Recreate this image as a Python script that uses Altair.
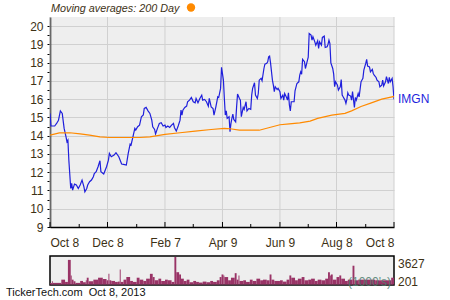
import altair as alt
import pandas as pd

# ---- data ----
start_date = "2012-10-08"
price_days = [0, 1, 5, 7, 9, 11, 13, 15, 17, 18, 19, 20, 22, 23, 24, 26, 28, 30, 32, 34, 36, 37, 39, 40, 42, 44, 46, 47, 49, 51,
              53, 54, 57, 60, 62, 63, 65, 68, 70, 73, 76, 78, 81, 83, 85, 86, 88, 90, 91, 93, 95, 97, 99, 100, 102, 104, 106, 108, 109, 111,
              112, 114, 116, 118, 120, 122, 123, 125, 127, 129, 131, 132, 134, 136, 138, 139, 140, 141, 143, 145, 146, 148, 150, 152, 154, 155, 157, 159, 161, 162,
              164, 166, 168, 169, 171, 173, 174, 176, 178, 179, 181, 182, 184, 185, 186, 187, 188, 190, 191, 192, 193, 194, 195, 197, 198, 199, 201, 202, 203, 205,
              206, 208, 209, 211, 213, 214, 215, 217, 218, 220, 221, 222, 224, 225, 227, 228, 230, 231, 232, 233, 234, 236, 237, 238, 239, 241, 242, 244, 245, 247,
              248, 249, 251, 252, 253, 254, 255, 256, 259, 260, 262, 264, 265, 266, 267, 268, 270, 271, 273, 274, 275, 277, 278, 279, 281, 282, 284, 285, 286, 288,
              289, 291, 292, 294, 295, 296, 297, 298, 300, 301, 302, 303, 305, 306, 308, 309, 310, 311, 313, 314, 315, 316, 317, 319, 320, 321, 323, 324, 325, 327,
              328, 329, 330, 332, 333, 335, 336, 337, 339, 340, 342, 343, 344, 346, 347, 349, 350, 352, 353, 354, 356, 357, 359, 360, 361, 363, 364, 365]
price_vals = [15.22, 14.53, 14.53, 14.67, 14.85, 15.36, 15.22, 14.40, 13.94, 13.67, 13.76, 12.66, 11.11, 11.39, 11.02, 11.35, 11.30, 11.11, 11.30, 11.57,
              11.20, 10.93, 11.11, 11.30, 11.48, 11.57, 11.75, 11.93, 12.03, 12.30, 12.63, 12.03, 11.90, 12.30, 12.66, 13.03, 12.85, 12.94, 13.07, 12.85,
              12.45, 12.43, 12.39, 13.03, 13.54, 13.49, 13.94, 14.40, 14.31, 14.49, 14.58, 15.04, 15.13, 15.49, 15.55, 15.36, 15.22, 14.85, 14.49, 14.34,
              14.09, 14.40, 14.67, 14.71, 14.53, 14.58, 14.45, 14.53, 14.45, 14.58, 14.67, 14.45, 14.25, 14.53, 14.85, 15.40, 15.13, 15.40, 15.55, 15.62,
              15.86, 15.95, 16.09, 15.86, 15.80, 16.04, 15.80, 16.04, 16.22, 15.95, 15.99, 15.86, 15.62, 16.04, 15.58, 15.49, 15.13, 15.58, 16.13, 16.09,
              16.59, 17.74, 17.04, 16.04, 15.13, 15.36, 14.95, 15.04, 14.22, 14.67, 14.95, 15.18, 14.89, 14.76, 15.58, 16.28, 16.04, 15.95, 15.04, 15.55,
              15.44, 15.86, 15.36, 15.49, 15.44, 16.22, 16.59, 16.90, 16.22, 16.04, 16.31, 17.04, 17.14, 17.01, 17.68, 17.92, 17.96, 18.05, 18.32, 18.36,
              17.99, 17.04, 16.77, 16.41, 16.68, 16.53, 16.59, 16.41, 16.04, 16.22, 15.95, 16.31, 16.09, 15.95, 16.35, 15.68, 15.36, 15.86, 15.86, 16.46,
              16.86, 16.95, 17.32, 17.50, 17.37, 18.18, 18.05, 17.68, 18.10, 18.30, 19.60, 19.51, 19.23, 19.42, 19.14, 18.96, 19.20, 18.78, 19.14, 18.96,
              19.38, 19.45, 18.83, 18.87, 19.01, 19.23, 19.05, 17.99, 17.68, 17.37, 16.68, 16.95, 16.77, 16.50, 16.68, 17.08, 16.22, 16.13, 15.95, 15.77,
              15.99, 16.35, 16.22, 16.17, 15.95, 16.41, 15.55, 16.09, 15.95, 16.31, 16.13, 16.53, 16.95, 17.14, 17.59, 17.96, 18.18, 17.81, 17.77, 17.50,
              17.63, 17.41, 17.32, 17.19, 17.04, 16.95, 16.68, 16.77, 17.04, 16.72, 16.95, 17.23, 16.86, 17.19, 16.95, 17.14, 16.68, 15.99]

ma_days = [0, 10, 21, 32, 42, 53, 63, 95, 106, 122, 138, 154, 171, 185, 191, 201, 222, 233, 244, 254, 265, 276, 284, 299, 313, 320, 330, 341, 352, 363, 365]
ma_vals = [14.03, 14.15, 14.16, 14.10, 14.03, 13.94, 13.90, 13.90, 13.94, 14.07, 14.16, 14.25, 14.34, 14.40, 14.38, 14.30, 14.30, 14.45, 14.60, 14.65,
           14.70, 14.80, 14.95, 15.13, 15.22, 15.36, 15.60, 15.80, 16.00, 16.13, 16.15]

vol_days = [0, 2, 3, 12, 16, 19, 22, 23, 25, 27, 32, 35, 38, 39, 41, 46, 51, 56, 60, 62, 63, 65, 69, 72, 74, 75, 78, 81, 85, 88,
            92, 95, 99, 102, 106, 109, 111, 115, 118, 122, 125, 129, 132, 134, 137, 139, 142, 145, 148, 152, 155, 158, 162, 166, 170, 173, 177, 180, 182, 184,
            185, 189, 192, 196, 198, 200, 201, 205, 208, 212, 215, 219, 223, 226, 230, 233, 235, 238, 244, 247, 251, 254, 256, 260, 263, 267, 270, 274, 277, 281,
            284, 288, 292, 295, 297, 298, 300, 304, 307, 309, 313, 316, 321, 323, 327, 345, 362]
vol_vals = [213, 427, 213, 640, 342, 3245, 1196, 640, 427, 213, 470, 299, 555, 897, 427, 640, 897, 726, 555, 1409, 555, 470, 342, 384, 1964, 342, 640, 982, 470, 342,
            897, 640, 470, 769, 1409, 982, 555, 769, 470, 640, 555, 342, 3627, 1623, 1324, 769, 470, 640, 299, 470, 342, 256, 384, 299, 470, 342, 555, 982, 1324, 1196,
            982, 555, 897, 1495, 640, 1196, 470, 555, 342, 640, 470, 769, 555, 640, 555, 1324, 640, 470, 555, 384, 640, 1196, 897, 555, 769, 982, 555, 640, 769, 470,
            640, 555, 769, 1623, 1196, 1324, 640, 982, 1196, 769, 470, 640, 2477, 555, 640, 555, 897]
vol_max_label = "3627"
vol_min_label = "201"

major_ticks = ["2012-10-08", "2012-12-08", "2013-02-07", "2013-04-09", "2013-06-09", "2013-08-08", "2013-10-08"]
minor_ticks = ["2012-11-08", "2013-01-08", "2013-03-09", "2013-05-09", "2013-07-09", "2013-09-08"]
y_ticks = [9 + 0.5 * i for i in range(23)]

ticker = "IMGN"
title_text = "Moving averages: 200 Day"
footer_text = "TickerTech.com\u00a0\u00a0Oct\u00a08,\u00a02013"

# ---- tables ----
t0 = pd.Timestamp(start_date)
def to_dates(days):
    return [(t0 + pd.Timedelta(days=d)).strftime("%Y-%m-%d") for d in days]

price_df = pd.DataFrame({"date": to_dates(price_days), "price": price_vals})
ma_df = pd.DataFrame({"date": to_dates(ma_days), "ma": ma_vals})
vol_end = vol_days[1:] + [365]
vol_df = pd.DataFrame({"start": to_dates(vol_days), "end": to_dates(vol_end), "vol": vol_vals})
last_df = price_df.tail(1).assign(label=ticker)
major_df = pd.DataFrame({"date": major_ticks})
minor_df = pd.DataFrame({"date": minor_ticks})
one = pd.DataFrame({"a": [0]})

def dt(s):
    ts = pd.Timestamp(s)
    return alt.DateTime(year=ts.year, month=ts.month, date=ts.day, utc=True)

xscale = alt.Scale(type="utc", domain=[dt(major_ticks[0]), dt(major_ticks[-1])])
yscale = alt.Scale(domain=[9, 20.5], nice=False, zero=False)
FONT = "Liberation Sans"
LABEL_COLOR = "#3d3115"
GRID = "#d0d0d0"

W, H = 344, 210

vgrid = alt.Chart(major_df).mark_rule(color=GRID, strokeWidth=1).encode(
    x=alt.X("date:T", scale=xscale, axis=None), y=alt.value(0), y2=alt.value(H))

price_line = alt.Chart(price_df).mark_line(color="#1f1fdc", strokeWidth=1.2, clip=True).encode(
    x=alt.X("date:T", scale=xscale, title=None,
            axis=alt.Axis(values=[dt(d) for d in major_ticks], ticks=False, grid=False,
                          domainColor="#000000", domainWidth=1.5,
                          labelExpr="utcFormat(datum.value, '%b %-d')", labelFont=FONT, labelFontSize=12,
                          labelColor=LABEL_COLOR, labelPadding=10, labelOverlap=False)),
    y=alt.Y("price:Q", scale=yscale, title=None,
            axis=alt.Axis(values=y_ticks, tickSize=3, tickColor="#000000", domainColor="#000000", domainWidth=1.5,
                          grid=True, gridColor=GRID, gridWidth=1,
                          gridOpacity={"condition": {"test": "datum.value % 1 === 0", "value": 1}, "value": 0},
                          labelExpr="datum.value % 1 === 0 ? format(datum.value, 'd') : ''",
                          labelFont=FONT, labelFontSize=12, labelColor=LABEL_COLOR, labelPadding=4)),
)

ma_line = alt.Chart(ma_df).mark_line(color="#ff8a00", strokeWidth=1.2).encode(
    x=alt.X("date:T", scale=xscale, axis=None),
    y=alt.Y("ma:Q", scale=yscale, axis=None),
)

major_rules = alt.Chart(major_df).mark_rule(color="#000000", strokeWidth=1).encode(
    x=alt.X("date:T", scale=xscale, axis=None), y=alt.value(H), y2=alt.value(H - 5))
minor_rules = alt.Chart(minor_df).mark_rule(color="#000000", strokeWidth=1).encode(
    x=alt.X("date:T", scale=xscale, axis=None), y=alt.value(H), y2=alt.value(H - 3))

label = alt.Chart(last_df).mark_text(align="left", baseline="middle", dx=4, font=FONT, fontSize=12,
                                     color="#1f1fdc").encode(
    x=alt.X("date:T", scale=xscale, axis=None),
    y=alt.Y("price:Q", scale=yscale, axis=None),
    text="label:N")

vol_bg = alt.Chart(one).mark_rect(fill="#eeeeee", stroke="#000000", strokeWidth=1.5).encode(
    x=alt.value(0), x2=alt.value(W), y=alt.value(239), y2=alt.value(268))

vscale = alt.Scale(domain=[0, 3627], range=[267.5, 240], nice=False, zero=False)
vol_bars = alt.Chart(vol_df).mark_rect(color="#993366").encode(
    x=alt.X("start:T", scale=xscale, axis=None),
    x2="end:T",
    y=alt.Y("vol:Q", scale=vscale, axis=None),
    y2=alt.datum(0),
)

txt = lambda s, x, y, **kw: alt.Chart(one).mark_text(text=s, font=FONT, baseline="middle", **kw).encode(
    x=alt.value(x), y=alt.value(y))

vol_unit = txt("(1000's)", 298, 265, align="left", fontSize=12, color="#4f8070", opacity=0.85)
vol_hi = txt(vol_max_label, 348, 247, align="left", fontSize=12, color=LABEL_COLOR)
vol_lo = txt(vol_min_label, 348, 265, align="left", fontSize=12, color=LABEL_COLOR)
title = txt(title_text, 1, -8, align="left", fontSize=10.8, fontStyle="italic", color=LABEL_COLOR)
footer = txt(footer_text, -44, 276, align="left", fontSize=11, color="#111111")
dot = alt.Chart(one).mark_point(filled=True, color="#ff8a00", size=70, opacity=1).encode(
    x=alt.value(141), y=alt.value(-9.5))

chart = alt.layer(
    vgrid, price_line, ma_line, major_rules, minor_rules, label,
    vol_bg, vol_bars, vol_unit, vol_hi, vol_lo, title, footer, dot
).resolve_scale(y="independent").resolve_axis(x="independent", y="independent").properties(
    width=W, height=H,
    autosize=alt.AutoSizeParams(type="none"),
    padding={"left": 50, "top": 17, "right": 56, "bottom": 73},
    background="#ffffff",
).configure_view(stroke=None, fill="#eeeeee")

chart.save("out.html", embed_options={"renderer": "svg", "actions": False})
